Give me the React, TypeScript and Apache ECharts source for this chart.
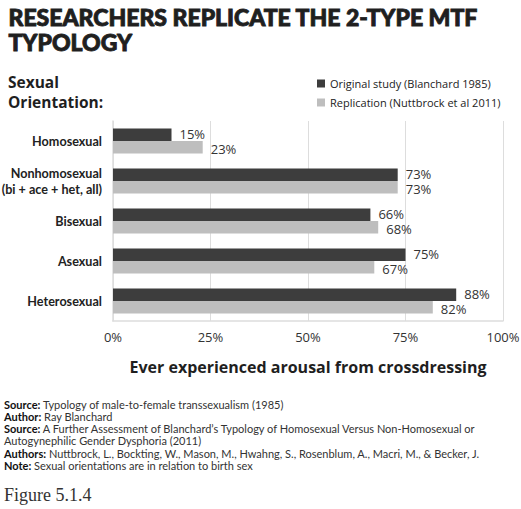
import React, { useEffect, useRef } from 'react';
import * as echarts from 'echarts';

const categories = [
  'Homosexual',
  'Nonhomosexual\n(bi + ace + het, all)',
  'Bisexual',
  'Asexual',
  'Heterosexual',
];
const originalStudy = [15, 73, 66, 75, 88];
const replication = [23, 73, 68, 67, 82];
const xTicks = [0, 25, 50, 75, 100];

const titleLines = ['RESEARCHERS REPLICATE THE 2-TYPE MTF', 'TYPOLOGY'];

const footnotes = [
  ['Source:', ' Typology of male-to-female transsexualism (1985)'],
  ['Author:', ' Ray Blanchard'],
  ['Source:', ' A Further Assessment of Blanchard\u2019s Typology of Homosexual Versus Non-Homosexual or'],
  ['', 'Autogynephilic Gender Dysphoria (2011)'],
  ['Authors:', ' Nuttbrock, L., Bockting, W., Mason, M., Hwahng, S., Rosenblum, A., Macri, M., & Becker, J.'],
  ['Note:', ' Sexual orientations are in relation to birth sex'],
];

const FONT = '"Open Sans", "Noto Sans", sans-serif';
const LATO = 'Lato, "Open Sans", sans-serif';

const App = () => {
  const chartRef = useRef(null);

  useEffect(() => {
    const chart = echarts.init(chartRef.current, null, { renderer: 'svg' });

    const titleGraphics = titleLines.map((t, i) => ({
      type: 'text',
      left: 8,
      top: 5 + i * 25,
      style: {
        text: t,
        fontFamily: LATO,
        fontWeight: 900,
        fontSize: 23,
        lineHeight: 23,
        fill: '#1f1f1f',
        stroke: '#1f1f1f',
        lineWidth: 0.9,
      },
    }));

    const footGraphics = footnotes.map((f, i) => ({
      type: 'text',
      left: 4,
      top: 398.5 + i * 12.3,
      style: {
        text: (f[0] ? '{b|' + f[0] + '}' : '') + '{r|' + f[1] + '}',
        rich: {
          b: { fontFamily: LATO, fontSize: 11, lineHeight: 12, fontWeight: 'bold', fill: '#111' },
          r: { fontFamily: LATO, fontSize: 11, lineHeight: 12, fill: '#333' },
        },
      },
    }));

    const option = {
      animation: false,
      backgroundColor: '#fff',
      textStyle: { fontFamily: FONT },
      graphic: [
        ...titleGraphics,
        {
          type: 'text',
          left: 8,
          top: 72,
          style: {
            text: 'Sexual\nOrientation:',
            fontFamily: FONT,
            fontWeight: 'bold',
            fontSize: 15.5,
            lineHeight: 20,
            fill: '#1f1f1f',
          },
        },
        ...footGraphics,
        {
          type: 'text',
          left: 4,
          top: 486,
          style: {
            text: 'Figure 5.1.4',
            fontFamily: '"Liberation Serif", "DejaVu Serif", serif',
            fontSize: 18,
            fill: '#333',
          },
        },
      ],
      legend: {
        orient: 'vertical',
        left: 312,
        top: 73,
        icon: 'rect',
        itemWidth: 8,
        itemHeight: 8,
        itemGap: 8,
        textStyle: { fontSize: 11, color: '#222', fontFamily: FONT },
        data: ['Original study (Blanchard 1985)', 'Replication (Nuttbrock et al 2011)'],
      },
      grid: {
        left: 113,
        right: 18,
        top: 121,
        bottom: 188,
        containLabel: false,
        outerBoundsMode: 'none',
      },
      xAxis: {
        type: 'value',
        min: 0,
        max: 100,
        interval: 25,
        axisLine: { show: true, lineStyle: { color: '#ddd', width: 1.5 } },
        axisTick: { show: false },
        splitLine: { show: true, lineStyle: { color: '#ddd', width: 1 } },
        axisLabel: {
          fontSize: 13,
          color: '#333',
          margin: 9,
          formatter: (v: number) => (xTicks.includes(v) ? v + '%' : ''),
        },
        name: 'Ever experienced arousal from crossdressing',
        nameLocation: 'middle',
        nameGap: 38,
        nameTextStyle: { fontSize: 16, fontWeight: 'bold', color: '#1f1f1f', fontFamily: FONT },
      },
      yAxis: {
        type: 'category',
        inverse: true,
        data: categories,
        axisLine: { show: true, lineStyle: { color: '#ddd', width: 1.5 } },
        axisTick: { show: false },
        axisLabel: {
          fontSize: 12.6,
          fontWeight: 'bold',
          fontFamily: LATO,
          color: '#222',
          margin: 11,
          lineHeight: 16,
          align: 'right',
        },
      },
      series: [
        {
          name: 'Original study (Blanchard 1985)',
          type: 'bar',
          data: originalStudy,
          barWidth: 12.5,
          barGap: '0%',
          itemStyle: { color: '#3d3d3d' },
          label: {
            show: true,
            position: 'right',
            distance: 8,
            offset: [0, -1],
            fontSize: 13,
            lineHeight: 13,
            color: '#333',
            formatter: '{c}%',
          },
        },
        {
          name: 'Replication (Nuttbrock et al 2011)',
          type: 'bar',
          data: replication,
          barWidth: 12.5,
          barGap: '0%',
          itemStyle: { color: '#bebebe' },
          label: {
            show: true,
            position: 'right',
            distance: 8,
            offset: [0, 2],
            fontSize: 13,
            lineHeight: 13,
            color: '#333',
            formatter: '{c}%',
          },
        },
      ],
    };

    chart.setOption(option);
    return () => {
      chart.dispose();
    };
  }, []);

  return (
    <div
      ref={chartRef}
      style={{ position: 'fixed', left: 0, top: 0, width: '521px', height: '509px' }}
    />
  );
};

export default App;
